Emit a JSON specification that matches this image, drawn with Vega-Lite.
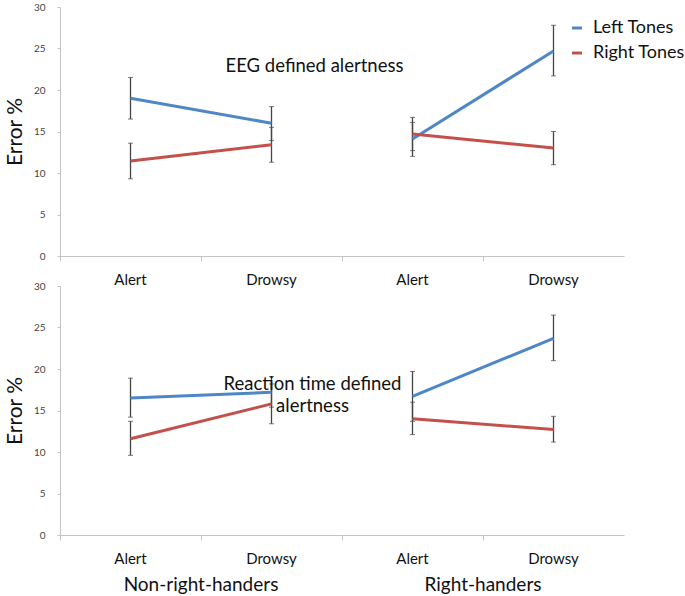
{
  "$schema": "https://vega.github.io/schema/vega-lite/v6.json",
  "padding": {"left": 4, "top": 2, "right": 3, "bottom": 5},
  "data": {"values": [
    {"Definition": "EEG", "Handedness": "Non-right-handers", "Condition": "Alert", "Tone": "Left Tones", "Error": 19.0, "Low": 16.5, "High": 21.5},
    {"Definition": "EEG", "Handedness": "Non-right-handers", "Condition": "Drowsy", "Tone": "Left Tones", "Error": 16.0, "Low": 13.9, "High": 18.0, "Label": "EEG defined alertness"},
    {"Definition": "EEG", "Handedness": "Non-right-handers", "Condition": "Alert", "Tone": "Right Tones", "Error": 11.45, "Low": 9.3, "High": 13.6},
    {"Definition": "EEG", "Handedness": "Non-right-handers", "Condition": "Drowsy", "Tone": "Right Tones", "Error": 13.4, "Low": 11.3, "High": 15.5},
    {"Definition": "EEG", "Handedness": "Right-handers", "Condition": "Alert", "Tone": "Left Tones", "Error": 14.1, "Low": 12.0, "High": 16.1},
    {"Definition": "EEG", "Handedness": "Right-handers", "Condition": "Drowsy", "Tone": "Left Tones", "Error": 24.7, "Low": 21.7, "High": 27.8},
    {"Definition": "EEG", "Handedness": "Right-handers", "Condition": "Alert", "Tone": "Right Tones", "Error": 14.7, "Low": 12.7, "High": 16.7},
    {"Definition": "EEG", "Handedness": "Right-handers", "Condition": "Drowsy", "Tone": "Right Tones", "Error": 13.0, "Low": 11.0, "High": 15.0},
    {"Definition": "RT", "Handedness": "Non-right-handers", "Condition": "Alert", "Tone": "Left Tones", "Error": 16.5, "Low": 14.2, "High": 18.9},
    {"Definition": "RT", "Handedness": "Non-right-handers", "Condition": "Drowsy", "Tone": "Left Tones", "Error": 17.2, "Low": 15.4, "High": 19.1, "Label": "Reaction time defined\nalertness"},
    {"Definition": "RT", "Handedness": "Non-right-handers", "Condition": "Alert", "Tone": "Right Tones", "Error": 11.6, "Low": 9.6, "High": 13.7},
    {"Definition": "RT", "Handedness": "Non-right-handers", "Condition": "Drowsy", "Tone": "Right Tones", "Error": 15.8, "Low": 13.4, "High": 18.2},
    {"Definition": "RT", "Handedness": "Right-handers", "Condition": "Alert", "Tone": "Left Tones", "Error": 16.7, "Low": 13.7, "High": 19.7},
    {"Definition": "RT", "Handedness": "Right-handers", "Condition": "Drowsy", "Tone": "Left Tones", "Error": 23.7, "Low": 21.0, "High": 26.5},
    {"Definition": "RT", "Handedness": "Right-handers", "Condition": "Alert", "Tone": "Right Tones", "Error": 14.0, "Low": 12.1, "High": 16.0},
    {"Definition": "RT", "Handedness": "Right-handers", "Condition": "Drowsy", "Tone": "Right Tones", "Error": 12.7, "Low": 11.2, "High": 14.3}
  ]},
  "facet": {
    "row": {"field": "Definition", "type": "nominal", "sort": ["EEG", "RT"], "header": null},
    "column": {"field": "Handedness", "type": "nominal", "sort": ["Non-right-handers", "Right-handers"], "title": null,
      "header": {"labelOrient": "bottom", "labelFontSize": 19, "labelFont": "Lato", "labelColor": "#111", "labelPadding": 41}}
  },
  "spacing": {"row": 30, "column": 0},
  "bounds": "flush",
  "resolve": {"axis": {"x": "independent"}},
  "spec": {
    "width": 282,
    "height": 249,
    "encoding": {
      "x": {"field": "Condition", "type": "ordinal", "sort": ["Alert", "Drowsy"],
        "scale": {"type": "band", "paddingInner": 0, "paddingOuter": 0},
        "axis": {"title": null, "labelAngle": 0, "bandPosition": 0, "labelFontSize": 15, "labelFont": "Lato", "labelColor": "#111", "labelPadding": 11, "tickSize": 5, "domainColor": "#c4c4c4", "tickColor": "#c4c4c4", "labelBound": false, "labelFlush": false}}
    },
    "layer": [
      {
        "mark": {"type": "errorbar", "ticks": {"size": 5, "color": "#444"}, "rule": {"color": "#444", "strokeWidth": 1.3}},
        "encoding": {
          "y": {"field": "Low", "type": "quantitative", "scale": {"domain": [0, 30]},
            "axis": {"title": "Error %", "values": [0, 5, 10, 15, 20, 25, 30], "labelFontSize": 10, "labelColor": "#444", "titleFontSize": 21, "titleFontWeight": "normal", "titleFont": "Lato", "titleColor": "#111", "titlePadding": 8, "domainColor": "#c4c4c4", "tickColor": "#c4c4c4", "tickSize": 3, "labelPadding": 12, "grid": false}},
          "y2": {"field": "High"},
          "detail": {"field": "Tone"}
        }
      },
      {
        "mark": {"type": "line", "strokeWidth": 3},
        "encoding": {
          "y": {"field": "Error", "type": "quantitative"},
          "color": {"field": "Tone", "type": "nominal",
            "scale": {"domain": ["Left Tones", "Right Tones"], "range": ["#4F86C6", "#C4504C"]},
            "legend": {"title": null, "orient": "none", "legendX": 508, "legendY": 12, "symbolType": "stroke", "symbolStrokeWidth": 3, "symbolSize": 100, "labelFontSize": 18, "labelFont": "Lato", "labelColor": "#111", "rowPadding": 7, "labelOffset": 7}}
        }
      },
      {
        "transform": [{"filter": "datum.Label != null && datum.Definition == 'EEG'"}],
        "mark": {"type": "text", "fontSize": 18.5, "font": "Lato", "color": "#111", "dx": 43, "align": "center", "baseline": "middle", "lineBreak": "\n"},
        "encoding": {"text": {"field": "Label"}, "y": {"datum": 22.95}}
      },
      {
        "transform": [{"filter": "datum.Label != null && datum.Definition == 'RT'"}],
        "mark": {"type": "text", "fontSize": 18.5, "font": "Lato", "color": "#111", "dx": 41, "align": "center", "baseline": "middle", "lineBreak": "\n", "lineHeight": 22},
        "encoding": {"text": {"field": "Label"}, "y": {"datum": 18.2}}
      }
    ]
  },
  "config": {"view": {"stroke": null}, "font": "Lato"}
}
